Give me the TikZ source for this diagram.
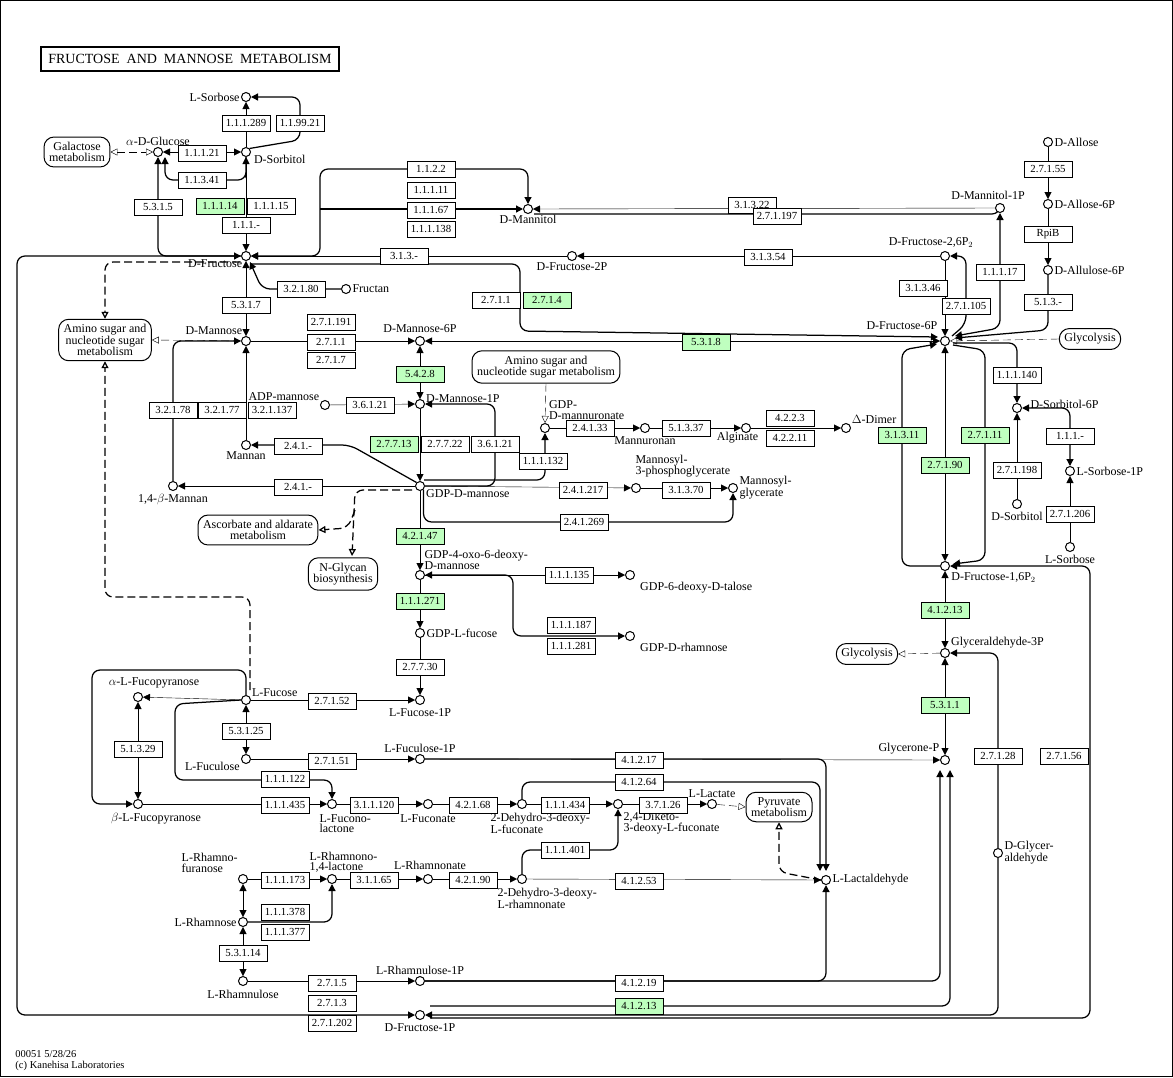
\documentclass[tikz,border=0pt]{standalone}
\usepackage{fontspec}
\setmainfont{Liberation Serif}
\usetikzlibrary{arrows.meta,backgrounds}
\definecolor{kgreen}{RGB}{191,255,191}
\begin{document}
\begin{tikzpicture}[x=1pt,y=-1pt,line width=1pt,
 c/.style={circle,draw,fill=white,minimum size=9pt,inner sep=0pt,line width=1pt,label distance=0pt},
 lb/.style={font=\fontsize{12}{10.5}\selectfont,align=center,inner sep=1pt},
 ll/.style={font=\fontsize{12}{10.5}\selectfont,align=left,inner sep=1pt},
 e/.style={draw,fill=white,font=\fontsize{10.8}{10}\selectfont,inner sep=1pt,minimum height=16pt,minimum width=48pt,line width=1pt},
 g/.style={e,fill=kgreen},
 m/.style={draw,fill=white,rounded corners=10pt,align=center,inner sep=5pt,font=\fontsize{12}{11.5}\selectfont,line width=1pt},
 tip/.tip={Triangle[length=7pt,width=7pt]},
 otip/.tip={Triangle[open,length=7pt,width=7pt]},
 rc/.style={rounded corners=8pt,line width=1.25pt},
 dl/.style={dash pattern=on 8pt off 4pt}]
\useasboundingbox (0,0) rectangle (1173,1077);
\draw[line width=1pt] (0.5,0.5) rectangle (1172.5,1076.5);
\node[draw,line width=1.5pt,font=\fontsize{14}{14}\selectfont,inner sep=4pt,minimum width=298pt,minimum height=24pt] (title) at (190,59) {FRUCTOSE\ \ AND\ \ MANNOSE\ \ METABOLISM};
\node[anchor=west,font=\fontsize{10.5}{11}\selectfont,align=left,inner sep=0pt] (foot) at (15,1061) {00051 5/28/26\\(c) Kanehisa Laboratories};
% maps
\node[m] (gal) at (77,152) {Galactose\\metabolism};
\node[m] (amino1) at (105,340) {Amino sugar and\\nucleotide sugar\\metabolism};
\node[m] (amino2) at (546,367) {Amino sugar and\\nucleotide sugar metabolism};
\node[m] (asc) at (258,530) {Ascorbate and aldarate\\metabolism};
\node[m] (ngly) at (343,574) {N-Glycan\\biosynthesis};
\node[m] (pyr) at (779,807) {Pyruvate\\metabolism};
\node[m] (glyc1) at (1090,339) {Glycolysis};
\node[m] (glyc2) at (867,654) {Glycolysis};
% compounds
\node[c,label={[lb]left:L-Sorbose}] (lsorb) at (246,97) {};
\node[c,label={[lb]above:$\alpha$-D-Glucose}] (glc) at (158,152) {};
\node[c,label={[lb,xshift=2pt]-25:D-Sorbitol}] (sorb) at (246,152) {};
\node[c,label={[lb,xshift=2pt]-150:D-Fructose}] (fru) at (246,256) {};
\node[c,label={[lb]right:Fructan}] (fructan) at (346,289) {};
\node[c,label={[lb]below:D-Mannitol}] (mtl) at (528,209) {};
\node[c,label={[lb,xshift=-12pt,yshift=2pt]above:D-Mannitol-1P}] (mtl1p) at (1000,208) {};
\node[c,label={[lb]below:D-Fructose-2P}] (fru2p) at (572,256) {};
\node[c,label={[lb,xshift=-14pt,yshift=2pt]above:D-Fructose-2,6P$_2$}] (fru26) at (945,256) {};
\node[c,label={[lb,xshift=-2pt,yshift=7pt]150:D-Fructose-6P}] (fru6p) at (945,341) {};
\node[c,label={[lb,xshift=2pt,yshift=2pt]150:D-Mannose}] (man) at (246,341) {};
\node[c,label={[lb,yshift=2pt]above:D-Mannose-6P}] (man6p) at (420,341) {};
\node[c,label={[lb,yshift=-2pt]20:D-Mannose-1P}] (man1p) at (420,404) {};
\node[c,label={[lb]150:ADP-mannose}] (adpm) at (325,405) {};
\node[c,label={[lb]below:Mannan}] (mannan) at (246,445) {};
\node[c,label={[lb,yshift=-2pt]below:1,4-$\beta$-Mannan}] (bman) at (173,486) {};
\node[c,label={[lb]-20:GDP-D-mannose}] (gdpman) at (420,486) {};
\node[c,label={[ll,yshift=3pt]60:GDP-\\D-mannuronate}] (gmu) at (545,428) {};
\node[c,label={[lb,yshift=-2pt]below:Mannuronan}] (mnn) at (645,428) {};
\node[c,label={[lb,anchor=north east,xshift=18pt]-150:Alginate}] (alg) at (746,428) {};
\node[c,label={[lb]30:$\Delta$-Dimer}] (dimer) at (846,428) {};
\node[c,label={[ll,anchor=south west,xshift=-2pt,yshift=4pt]90:Mannosyl-\\3-phosphoglycerate}] (m3pg) at (636,488) {};
\node[c,label={[ll]right:Mannosyl-\\glycerate}] (mgly) at (733,488) {};
\node[c,label={[ll,anchor=south west,xshift=3pt,yshift=-1pt]90:GDP-4-oxo-6-deoxy-\\D-mannose}] (gdp4) at (420,575) {};
\node[c,label={[lb,xshift=4pt,yshift=-4pt]-20:GDP-6-deoxy-D-talose}] (gtal) at (630,575) {};
\node[c,label={[lb]right:GDP-L-fucose}] (gfuc) at (420,633) {};
\node[c,label={[lb,xshift=4pt,yshift=-4pt]-20:GDP-D-rhamnose}] (grham) at (630,636) {};
\node[c,label={[lb,yshift=-2pt]below:L-Fucose-1P}] (lfuc1p) at (420,700) {};
\node[c,label={[lb]25:L-Fucose}] (lfuc) at (246,700) {};
\node[c,label={[lb,xshift=16pt,yshift=2pt]above:$\alpha$-L-Fucopyranose}] (afp) at (138,697) {};
\node[c,label={[lb,xshift=18pt,yshift=-3pt]below:$\beta$-L-Fucopyranose}] (bfp) at (138,804) {};
\node[c,label={[lb]-165:L-Fuculose}] (lfcl) at (246,759) {};
\node[c,label={[lb]above:L-Fuculose-1P}] (lfcl1p) at (420,759) {};
\node[c,label={[ll,anchor=north west,xshift=-14pt,yshift=-4pt]-90:L-Fucono-\\lactone}] (lfcn) at (332,804) {};
\node[c,label={[lb,yshift=-4pt]below:L-Fuconate}] (lfcnt) at (428,804) {};
\node[c,label={[ll,anchor=north west,xshift=-33pt,yshift=-3pt]-90:2-Dehydro-3-deoxy-\\L-fuconate}] (ddf) at (522,804) {};
\node[c,label={[ll,anchor=north west,xshift=4pt,yshift=-2pt]-90:2,4-Diketo-\\3-deoxy-L-fuconate}] (dkd) at (618,804) {};
\node[c,label={[lb]above:L-Lactate}] (llac) at (712,804) {};
\node[c,label={[lb]right:L-Lactaldehyde}] (lald) at (826,880) {};
\node[c,label={[ll,yshift=2pt]140:L-Rhamno-\\furanose}] (lrhf) at (243,879) {};
\node[c,label={[ll,anchor=south west,xshift=-24pt]90:L-Rhamnono-\\1,4-lactone}] (lrhl) at (332,879) {};
\node[c,label={[lb,xshift=2pt,yshift=3pt]above:L-Rhamnonate}] (lrhn) at (428,879) {};
\node[c,label={[ll,anchor=north west,xshift=-26pt,yshift=-3pt]-90:2-Dehydro-3-deoxy-\\L-rhamnonate}] (ddr) at (522,879) {};
\node[c,label={[lb]left:L-Rhamnose}] (lrha) at (243,922) {};
\node[c,label={[lb,yshift=-3pt]below:L-Rhamnulose}] (lrhu) at (243,981) {};
\node[c,label={[lb]above:L-Rhamnulose-1P}] (lrhu1p) at (420,981) {};
\node[c,label={[lb,yshift=-2pt]below:D-Fructose-1P}] (fru1p) at (420,1015) {};
\node[c,label={[lb,yshift=2pt]150:Glycerone-P}] (glyp) at (945,760) {};
\node[c,label={[lb,yshift=2pt]20:Glyceraldehyde-3P}] (g3p) at (945,653) {};
\node[c,label={[lb,yshift=-4pt]-15:D-Fructose-1,6P$_2$}] (fru16) at (945,566) {};
\node[c,label={[ll]right:D-Glycer-\\aldehyde}] (dgla) at (998,853) {};
\node[c,label={[lb,xshift=7pt,yshift=4pt]right:D-Sorbitol-6P}] (s6p) at (1017,408) {};
\node[c,label={[lb,yshift=-2pt]below:D-Sorbitol}] (sorb2) at (1017,504) {};
\node[c,label={[lb]right:L-Sorbose-1P}] (ls1p) at (1070,471) {};
\node[c,label={[lb,yshift=-2pt]below:L-Sorbose}] (lsor2) at (1070,547) {};
\node[c,label={[lb]right:D-Allose}] (allo) at (1048,142) {};
\node[c,label={[lb]right:D-Allose-6P}] (allo6p) at (1048,204) {};
\node[c,label={[lb]right:D-Allulose-6P}] (allu6p) at (1048,270) {};
% enzymes
\node[e] (e1) at (246,123) {1.1.1.289};
\node[e] (e2) at (300,123) {1.1.99.21};
\node[e] (e3) at (202,153) {1.1.1.21};
\node[e] (e4) at (202,180) {1.1.3.41};
\node[e] (e5) at (158,207) {5.3.1.5};
\node[g] (e6) at (220,206) {1.1.1.14};
\node[e] (e7) at (271,206) {1.1.1.15};
\node[e] (e8) at (246,225) {1.1.1.-};
\node[e] (e9) at (431,169) {1.1.2.2};
\node[e] (e10) at (431,190) {1.1.1.11};
\node[e] (e11) at (431,210) {1.1.1.67};
\node[e] (e12) at (431,229) {1.1.1.138};
\node[e] (e13) at (752,205) {3.1.3.22};
\node[e] (e14) at (777,216) {2.7.1.197};
\node[e] (e15) at (404,256) {3.1.3.-};
\node[e] (e16) at (768,257) {3.1.3.54};
\node[e] (e17) at (301,289) {3.2.1.80};
\node[e] (e18) at (246,305) {5.3.1.7};
\node[e] (e19) at (496,300) {2.7.1.1};
\node[g] (e20) at (547,300) {2.7.1.4};
\node[e] (e21) at (923,288) {3.1.3.46};
\node[e] (e22) at (966,306) {2.7.1.105};
\node[e] (e23) at (1000,272) {1.1.1.17};
\node[g] (e24) at (706,342) {5.3.1.8};
\node[e] (e25) at (331,322) {2.7.1.191};
\node[e] (e26) at (331,342) {2.7.1.1};
\node[e] (e27) at (331,360) {2.7.1.7};
\node[g] (e28) at (420,374) {5.4.2.8};
\node[e] (e29) at (370,405) {3.6.1.21};
\node[e] (e30) at (173,410) {3.2.1.78};
\node[e] (e31) at (222,410) {3.2.1.77};
\node[e] (e32) at (272,410) {3.2.1.137};
\node[g] (e33) at (394,444) {2.7.7.13};
\node[e] (e34) at (445,444) {2.7.7.22};
\node[e] (e35) at (495,444) {3.6.1.21};
\node[e] (e36) at (298,446) {2.4.1.-};
\node[e] (e37) at (298,487) {2.4.1.-};
\node[e] (e38) at (590,428) {2.4.1.33};
\node[e] (e39) at (686,428) {5.1.3.37};
\node[e] (e40) at (790,418) {4.2.2.3};
\node[e] (e41) at (790,438) {4.2.2.11};
\node[e] (e42) at (543,461) {1.1.1.132};
\node[e] (e43) at (583,490) {2.4.1.217};
\node[e] (e44) at (686,490) {3.1.3.70};
\node[e] (e45) at (584,522) {2.4.1.269};
\node[g] (e46) at (420,536) {4.2.1.47};
\node[g] (e47) at (420,601) {1.1.1.271};
\node[e] (e48) at (569,575) {1.1.1.135};
\node[e] (e49) at (571,625) {1.1.1.187};
\node[e] (e50) at (571,646) {1.1.1.281};
\node[e] (e51) at (420,667) {2.7.7.30};
\node[e] (e52) at (332,701) {2.7.1.52};
\node[e] (e53) at (246,731) {5.3.1.25};
\node[e] (e54) at (138,749) {5.1.3.29};
\node[e] (e55) at (332,761) {2.7.1.51};
\node[e] (e56) at (285,779) {1.1.1.122};
\node[e] (e57) at (285,805) {1.1.1.435};
\node[e] (e58) at (374,805) {3.1.1.120};
\node[e] (e59) at (473,805) {4.2.1.68};
\node[e] (e60) at (565,805) {1.1.1.434};
\node[e] (e61) at (663,805) {3.7.1.26};
\node[e] (e62) at (639,760) {4.1.2.17};
\node[e] (e63) at (639,782) {4.1.2.64};
\node[e] (e64) at (565,850) {1.1.1.401};
\node[e] (e65) at (639,881) {4.1.2.53};
\node[e] (e66) at (285,880) {1.1.1.173};
\node[e] (e67) at (374,880) {3.1.1.65};
\node[e] (e68) at (473,880) {4.2.1.90};
\node[e] (e69) at (285,912) {1.1.1.378};
\node[e] (e70) at (285,932) {1.1.1.377};
\node[e] (e71) at (243,953) {5.3.1.14};
\node[e] (e72) at (332,983) {2.7.1.5};
\node[e] (e73) at (332,1003) {2.7.1.3};
\node[e] (e74) at (332,1023) {2.7.1.202};
\node[e] (e75) at (639,983) {4.1.2.19};
\node[g] (e76) at (639,1006) {4.1.2.13};
\node[g] (e77) at (902,435) {3.1.3.11};
\node[g] (e78) at (945,465) {2.7.1.90};
\node[g] (e79) at (985,435) {2.7.1.11};
\node[g] (e80) at (945,610) {4.1.2.13};
\node[g] (e81) at (945,705) {5.3.1.1};
\node[e] (e82) at (1017,375) {1.1.1.140};
\node[e] (e83) at (1017,470) {2.7.1.198};
\node[e] (e84) at (1070,436) {1.1.1.-};
\node[e] (e85) at (1070,514) {2.7.1.206};
\node[e] (e86) at (1048,169) {2.7.1.55};
\node[e] (e87) at (1048,234) {RpiB};
\node[e] (e88) at (1048,302) {5.1.3.-};
\node[e] (e89) at (998,756) {2.7.1.28};
\node[e] (e90) at (1064,756) {2.7.1.56};
% connectors
\begin{scope}[on background layer]
\draw[-tip] (sorb) -- (lsorb);
\draw[-tip,rc] (sorb.north east) -- (300,140) |- (lsorb.east);
\draw[tip-tip] (glc) -- (sorb);
\draw[-tip,rc] (sorb.south) -- (246,170) |- (202,180) -| (165,157);
\draw[tip-tip,rc] (glc) |- (fru.west);
\draw[tip-tip] (sorb) -- (fru);
\draw[tip-tip,rc] (mtl.north) |- (320,169) |- (fru.east);
\draw[-tip,rc] (320,209) -- (mtl.west);
\draw[-tip] (fru2p) -- (fru);
\draw[-tip] (fru26) -- (fru2p);
\draw[-tip] (mtl1p.west) -- (mtl.east);
\draw[-tip,rc] (534,214) -| (mtl1p.south);
\draw[tip-tip,rc] (mtl1p) -- (1000,328) -- (955,336);
\draw[-tip] (fru26) -- (fru6p);
\draw[-tip,rc] (952,336) -- (966,324) |- (fru26.east);
\draw[-tip,rc] (250,264) -- (520,264) -- (520,331) -- (938,337);
\draw[tip-tip] (fru6p) -- (man6p);
\draw[tip-tip] (fru) -- (man);
\draw[-tip,rc] (fructan.west) -- (262,289) -- (250,262);
\draw[-tip] (man) -- (man6p);
\draw[tip-tip] (man6p) -- (man1p);
\draw[-tip] (adpm) -- (man1p);
\draw[-tip] (man1p) -- (gdpman);
\draw[-tip,rc] (gdpman.east) -| (495,404) -- (man1p.east);
\draw[-tip,rc] (gdpman.north west) -- (350,445) -- (mannan);
\draw[-tip] (gdpman) -- (bman);
\draw[-tip] (mannan) -- (man);
\draw[-tip,rc] (bman) |- (man.west);
\draw[-tip,rc] (424,480) -- (545,480) -- (gmu.south);
\draw[-tip] (gmu) -- (mnn);
\draw[-tip] (mnn) -- (alg);
\draw[-tip] (alg) -- (dimer);
\draw[-tip] (gdpman) -- (m3pg);
\draw[-tip] (m3pg) -- (mgly);
\draw[-tip,rc] (gdpman.south east) |- (733,522) -- (mgly.south);
\draw[-tip] (gdpman) -- (gdp4);
\draw[-tip] (gdp4) -- (gtal);
\draw[tip-tip,rc] (gdp4.east) -- (513,575) -- (513,636) -- (grham.west);
\draw[-tip] (gdp4) -- (gfuc);
\draw[-tip] (gfuc) -- (lfuc1p);
\draw[-tip] (lfuc) -- (lfuc1p);
\draw[-tip] (lfuc) -- (afp);
\draw[-tip,rc] (lfuc.north) -- (246,670) -| (92,804) -- (bfp);
\draw[-tip,rc] (lfuc.west) -- (175,704) |- (332,780) -- (lfcn.north);
\draw[tip-tip] (afp) -- (bfp);
\draw[-tip] (bfp) -- (lfcn);
\draw[tip-tip] (lfuc) -- (lfcl);
\draw[-tip] (lfcl) -- (lfcl1p);
\draw[-tip] (lfcl1p) -- (glyp);
\draw[-tip,rc] (lfcl1p.east) -- (826,759) -- (826,871);
\draw[-tip] (lfcn) -- (lfcnt);
\draw[-tip] (lfcnt) -- (ddf);
\draw[-tip] (ddf) -- (dkd);
\draw[-tip] (dkd) -- (llac);
\draw[-tip,rc] (ddf.north) |- (820,782) -- (820,871);
\draw[-tip,rc] (ddr.north) |- (618,850) -- (dkd.south);
\draw[-tip] (lrhf) -- (lrhl);
\draw[-tip,rc] (lrha.east) -| (lrhl.south);
\draw[tip-tip] (lrhf) -- (lrha);
\draw[-tip] (lrhl) -- (lrhn);
\draw[-tip] (lrhn) -- (ddr);
\draw[-tip] (ddr) -- (lald);
\draw[tip-tip] (lrha) -- (lrhu);
\draw[-tip] (lrhu) -- (lrhu1p);
\draw[-tip,rc] (lrhu1p.east) -| (lald.south);
\draw[-tip,rc] (lrhu1p.east) -| (940,770);
\draw[-tip,rc] (430,1006) -| (950,770);
\draw[-tip,rc] (dgla.south) |- (fru1p.east);
\draw[-tip,rc] (fru.west) -| (17,1015) -- (fru1p.west);
\draw[-tip,rc] (430,1018) -| (1090,566) -- (fru16.east);
\draw[-tip,rc] (fru16.west) -- (902,566) -- (902,350) -- (937,344);
\draw[tip-tip] (fru6p) -- (fru16);
\draw[-tip,rc] (953,345) -- (985,350) -- (985,560) -- (953,564);
\draw[tip-tip] (fru16) -- (g3p);
\draw[tip-tip] (g3p) -- (glyp);
\draw[-tip,rc] (dgla.north) |- (g3p.east);
\draw[-tip,rc] (953,343) -| (s6p.north);
\draw[-tip,rc] (allu6p.south) -- (1048,330) -- (955,338);
\draw[-tip] (sorb2) -- (s6p);
\draw[-tip] (lsor2) -- (ls1p);
\draw[tip-tip,rc] (s6p.east) -- (1070,408) -- (ls1p.north);
\draw[-tip] (allo) -- (allo6p);
\draw[-tip] (allo6p) -- (allu6p);
% dashed map links
\draw[dl,otip-otip] (gal.east) -- (glc.west);
\draw[dl,-otip,rc] (240,262) -| (amino1.north);
\draw[dl,-otip] (man) -- (amino1.east);
\draw[dl,-otip] (amino2.south) -- (gmu.north);
\draw[dl,-otip,rc] (412,490) -- (355,490) -- (352,556);
\draw[dl,-otip,rc] (355,510) -- (348,528) -- (asc.east);
\draw[dl,-otip,rc] (250,690) -- (250,597) -| (amino1.south);
\draw[dl,-otip] (llac) -- (pyr.west);
\draw[dl,-otip,rc] (lald.west) -- (779,872) -- (pyr.south);
\draw[dl,-otip] (g3p) -- (glyc2.east);
\draw[dl,-otip] (glyc1.west) -- (fru6p.east);
\end{scope}
\end{tikzpicture}
\end{document}
